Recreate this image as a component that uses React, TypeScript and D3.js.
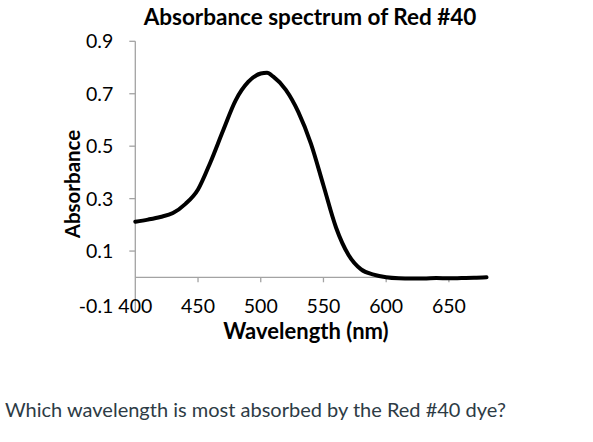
import React from 'react';
import * as d3 from 'd3';

// wavelength (nm) and absorbance
const wavelengths = [400, 410, 420, 430, 440, 450, 460, 470, 480, 490, 500, 505, 510, 520, 530, 540, 550, 560, 570, 580, 590, 600, 610, 620, 630, 640, 650, 660, 670, 680];
const absorbance = [0.212, 0.22, 0.23, 0.245, 0.28, 0.335, 0.44, 0.56, 0.675, 0.745, 0.777, 0.78, 0.765, 0.715, 0.63, 0.51, 0.35, 0.19, 0.085, 0.03, 0.01, 0.0, -0.004, -0.005, -0.005, -0.003, -0.004, -0.003, -0.002, 0.0];

const yTicks = [-0.1, 0.1, 0.3, 0.5, 0.7, 0.9];
const xTicks = [400, 450, 500, 550, 600, 650];

const title = 'Absorbance spectrum of Red #40';
const xLabel = 'Wavelength (nm)';
const yLabel = 'Absorbance';
const question = 'Which wavelength is most absorbed by the Red #40 dye?';

const W = 593;
const H = 442;
const FONT = 'Lato, "Open Sans", sans-serif';
const AXIS = '#a3a3a3';

export default function App() {
  // plot area
  const left = 135.3;
  const right = 487.8;
  const top = 41.3;
  const bottom = 303.5;

  const x = d3.scaleLinear().domain([400, 681]).range([left, right]);
  const y = d3.scaleLinear().domain([-0.1, 0.9]).range([bottom, top]);

  const pts = wavelengths.map((w, i) => [w, absorbance[i]] as [number, number]);
  const line = d3.line<[number, number]>()
    .x(d => x(d[0]))
    .y(d => y(d[1]))
    .curve(d3.curveMonotoneX);

  const y0 = y(0);

  return (
    <svg
      width={W}
      height={H}
      style={{ position: 'absolute', left: 0, top: 0, background: '#fff' }}
      fontFamily={FONT}
    >
      <rect x={0} y={0} width={W} height={H} fill="#fff" />

      {/* title */}
      <text x={310} y={25} textAnchor="middle" fontSize={22.5} fontWeight="bold" fill="#000">
        {title}
      </text>

      {/* y axis */}
      <line x1={left} x2={left} y1={top} y2={bottom + 8} stroke={AXIS} strokeWidth={1.3} />
      {yTicks.map(t => (
        <g key={'y' + t}>
          {t > -0.1 && (
            <line x1={left - 6} x2={left} y1={y(t)} y2={y(t)} stroke={AXIS} strokeWidth={1.3} />
          )}
          <text
            x={left - 22}
            y={y(t) + (t === -0.1 ? 2.5 : 0)}
            dy="0.36em"
            textAnchor="end"
            fontSize={19.5}
            fill="#000"
          >
            {t.toFixed(1)}
          </text>
        </g>
      ))}

      {/* x axis crossing at zero */}
      <line x1={left} x2={right} y1={y0} y2={y0} stroke={AXIS} strokeWidth={1.3} />
      {xTicks.map(t => (
        <g key={'x' + t}>
          {t > 400 && (
            <line x1={x(t)} x2={x(t)} y1={y0} y2={y0 + 5} stroke={AXIS} strokeWidth={1.3} />
          )}
          <text x={x(t)} y={313} textAnchor="middle" fontSize={19.5} fill="#000">
            {t}
          </text>
        </g>
      ))}

      {/* spectrum */}
      <path
        d={line(pts) || ''}
        fill="none"
        stroke="#000"
        strokeWidth={4}
        strokeLinejoin="round"
        strokeLinecap="round"
      />

      {/* axis titles */}
      <text x={306} y={339} textAnchor="middle" fontSize={22} fontWeight="bold" fill="#000">
        {xLabel}
      </text>
      <text
        transform={`translate(80,184) rotate(-90)`}
        textAnchor="middle"
        fontSize={20.5}
        fontWeight="bold"
        fill="#000"
      >
        {yLabel}
      </text>

      {/* question below the chart */}
      <text x={5} y={417} fontSize={20} fill="#2d3b45">
        {question}
      </text>
    </svg>
  );
}
